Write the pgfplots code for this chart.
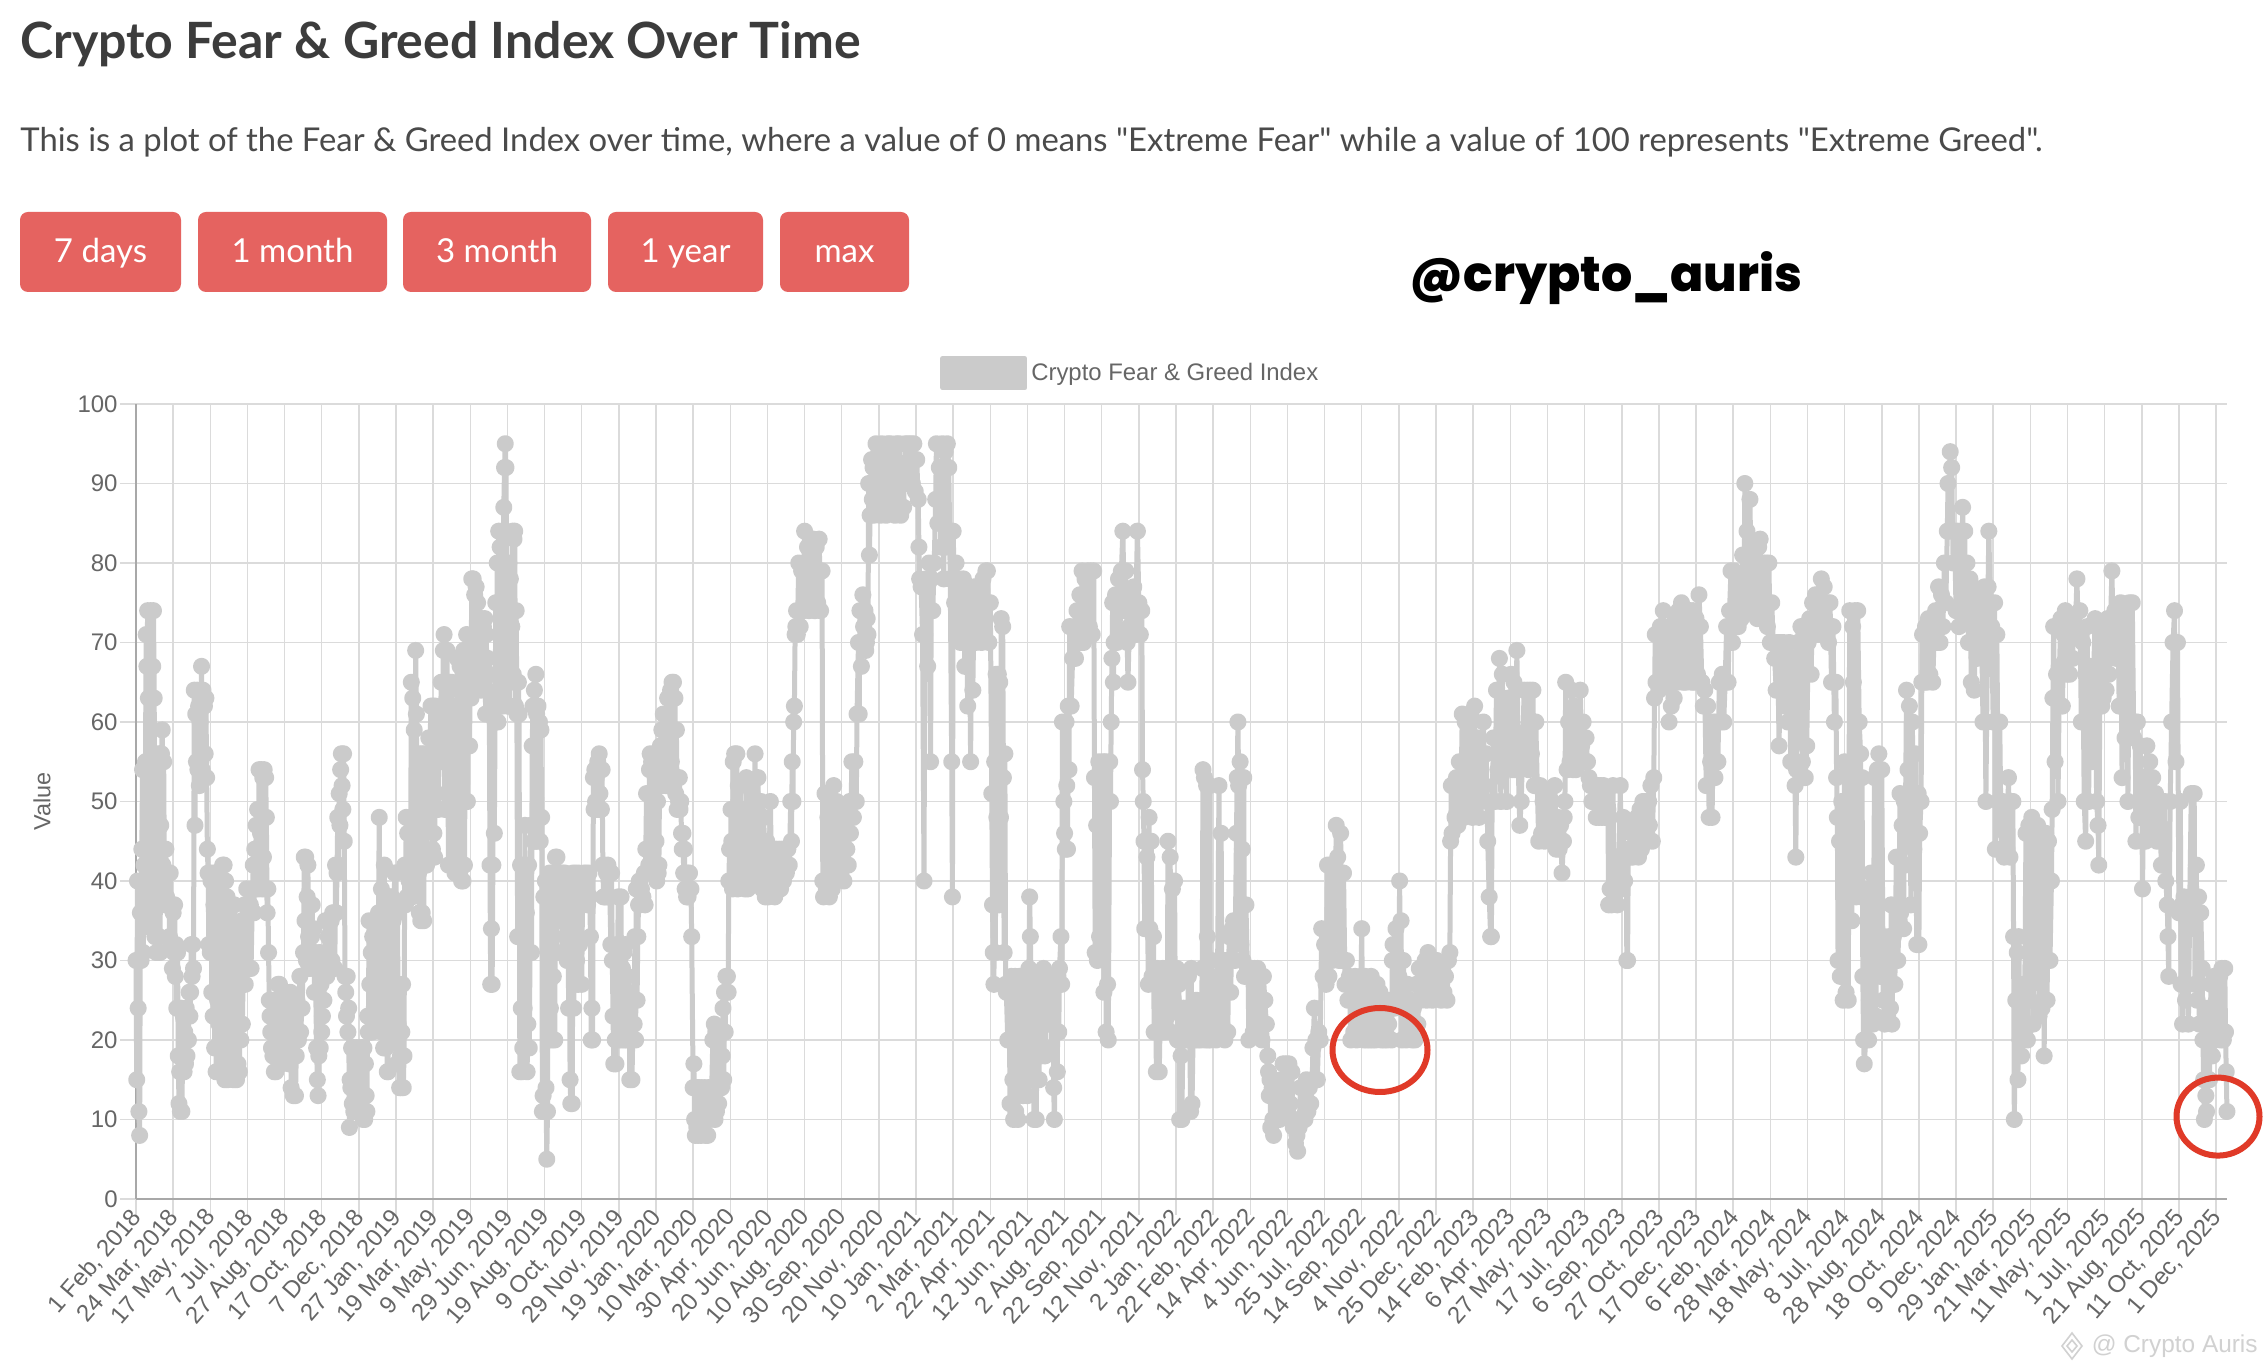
\documentclass[border=0pt]{standalone}
\usepackage{fontspec}
\usepackage{pgfplots}
\pgfplotsset{compat=1.18}
\setmainfont{Liberation Sans}
\newfontfamily\headfont{Lato}
\newfontfamily\handlefont{Poppins ExtraBold}
\definecolor{fg}{HTML}{CBCBCB}
\definecolor{gridc}{HTML}{DBDBDB}
\definecolor{axc}{HTML}{A8A8A8}
\definecolor{labc}{HTML}{666666}
\definecolor{btn}{HTML}{E56360}
\definecolor{titlec}{HTML}{3C3C3C}
\definecolor{subc}{HTML}{4A4A4A}
\definecolor{ring}{HTML}{E03A28}
\begin{document}
\begin{tikzpicture}
\useasboundingbox (0,0) rectangle (1133pt,685pt);
\fill[white] (0,0) rectangle (1133pt,685pt);
\begin{axis}[
  at={(68pt,85.5pt)}, anchor=south west,
  scale only axis, width=1045.5pt, height=397.5pt,
  xmin=0, xmax=2871, ymin=0, ymax=100,
  axis lines*=left,
  axis line style={axc, line width=1pt, -},
  clip=false,
  xtick={0,51,102,153,204,255,306,357,408,459,510,561,612,663,714,765,816,867,918,969,1020,1071,1122,1173,1224,1275,1326,1377,1428,1479,1530,1581,1632,1683,1734,1785,1836,1887,1938,1989,2040,2091,2142,2193,2244,2295,2346,2397,2448,2499,2550,2601,2652,2703,2754,2805,2856},
  xticklabels={{1 Feb, 2018},{24 Mar, 2018},{17 May, 2018},{7 Jul, 2018},{27 Aug, 2018},{17 Oct, 2018},{7 Dec, 2018},{27 Jan, 2019},{19 Mar, 2019},{9 May, 2019},{29 Jun, 2019},{19 Aug, 2019},{9 Oct, 2019},{29 Nov, 2019},{19 Jan, 2020},{10 Mar, 2020},{30 Apr, 2020},{20 Jun, 2020},{10 Aug, 2020},{30 Sep, 2020},{20 Nov, 2020},{10 Jan, 2021},{2 Mar, 2021},{22 Apr, 2021},{12 Jun, 2021},{2 Aug, 2021},{22 Sep, 2021},{12 Nov, 2021},{2 Jan, 2022},{22 Feb, 2022},{14 Apr, 2022},{4 Jun, 2022},{25 Jul, 2022},{14 Sep, 2022},{4 Nov, 2022},{25 Dec, 2022},{14 Feb, 2023},{6 Apr, 2023},{27 May, 2023},{17 Jul, 2023},{6 Sep, 2023},{27 Oct, 2023},{17 Dec, 2023},{6 Feb, 2024},{28 Mar, 2024},{18 May, 2024},{8 Jul, 2024},{28 Aug, 2024},{18 Oct, 2024},{9 Dec, 2024},{29 Jan, 2025},{21 Mar, 2025},{11 May, 2025},{1 Jul, 2025},{21 Aug, 2025},{11 Oct, 2025},{1 Dec, 2025}},
  ytick={0,10,...,100},
  grid=major,
  grid style={gridc, line width=0.75pt},
  tick style={gridc, line width=0.75pt},
  major tick length=8pt,
  tick align=outside,
  xticklabel style={rotate=49, anchor=east, font=\fontsize{12}{12}\selectfont, text=labc, inner sep=0pt, outer sep=0pt, xshift=1pt},
  yticklabel style={font=\fontsize{12}{12}\selectfont, text=labc, /pgf/number format/assume math mode=true, inner sep=0pt, xshift=-1pt},
  xtick pos=bottom, ytick pos=left,
  ylabel={Value},
  ylabel style={font=\fontsize{11.7}{12}\selectfont, text=labc, at={(axis description cs:-0.0375,0.5)}, anchor=south},
  legend style={at={(0.476,1.0165)}, anchor=south, draw=none, fill=none, font=\fontsize{11.95}{12}\selectfont, text=labc, inner sep=0pt},
  legend cell align=left,
  legend image code/.code={\fill[fg] (0pt,-7.4pt) rectangle (41pt,7.4pt);},
]
\addplot[fg, line width=2.5pt, line join=round, mark=*, mark size=3pt, mark options={fg, fill=fg, solid}] coordinates {
(0,30)(1,15)(2,40)(3,24)(4,11)(5,8)(6,36)(7,30)(8,44)(9,54)(10,31)(11,42)(12,35)(13,55)(14,71)(15,67)(16,74)(17,63)(18,54)(19,36)(20,74)(21,45)(22,34)(23,67)(24,74)(25,63)(26,33)(27,55)(28,31)(29,45)(30,56)(31,38)(32,33)(33,31)(34,47)(35,56)(36,59)(37,42)(38,55)(39,40)(40,37)(41,44)(42,38)(43,41)(44,37)(45,41)(46,33)(47,41)(48,32)(49,37)(50,29)(51,36)(52,31)(53,37)(54,28)(55,32)(56,24)(57,31)(58,18)(59,12)
(60,16)(61,11)(62,24)(63,11)(64,18)(65,23)(66,16)(67,21)(68,17)(69,24)(70,18)(71,23)(72,20)(73,26)(74,23)(75,26)(76,32)(77,28)(78,32)(79,29)
(80,64)(81,47)(82,61)(83,55)(84,64)(85,54)(86,62)(87,52)(88,60)(89,55)(90,67)(91,54)(92,64)(93,53)(94,62)(95,56)(96,63)(97,53)(98,44)
(99,41)(100,32)(101,41)(102,31)(103,40)(104,26)(105,41)(106,23)(107,37)(108,19)(109,41)(110,16)(111,39)(112,25)(113,41)(114,22)(115,36)(116,16)(117,40)(118,24)(119,42)(120,20)(121,42)(122,15)(123,40)(124,18)(125,38)(126,15)(127,35)(128,20)(129,33)(130,16)(131,37)(132,19)(133,37)(134,15)(135,37)(136,22)(137,34)(138,15)(139,33)(140,17)(141,28)(142,16)(143,30)(144,20)(145,35)(146,22)(147,27)(148,30)(149,37)(150,27)
(152,39)(154,36)(155,29)(157,37)(158,29)(160,39)(161,42)(162,36)(163,44)(164,39)(165,47)(166,42)(167,49)(168,39)(169,54)(171,46)(172,54)(173,39)(174,53)(175,43)(176,54)(177,39)(178,53)(179,48)(180,36)(181,39)(182,31)(183,25)(184,23)(185,21)(186,19)(187,25)(188,18)(189,23)(190,16)(191,24)(192,16)(193,25)(194,19)(195,27)(196,20)(197,27)(198,18)(199,25)(200,17)(201,23)(202,19)
(204,26)(206,18)(208,25)(210,17)(212,26)(213,14)(215,24)(216,13)(218,22)(219,13)(220,18)(221,25)(223,20)(225,28)(226,21)(228,24)(230,31)(231,43)(232,35)(233,43)(234,30)(235,38)(236,42)(237,33)(238,29)(240,37)(241,33)(242,37)(243,29)(244,34)(245,26)(246,31)(248,19)(249,15)(250,13)(251,18)(252,31)(253,19)(254,27)(255,21)(256,23)(257,29)(258,25)(260,35)(262,28)(264,33)
(266,35)(267,29)(268,35)(269,30)(270,36)(271,29)(272,36)(273,29)(274,42)(275,36)(276,41)(277,48)(278,42)(279,51)(280,47)(281,54)(282,56)(283,52)(284,49)(285,56)(286,45)(287,28)(288,26)(289,23)(290,28)(291,21)(292,24)(293,9)(294,15)(295,14)
(296,19)(297,12)(298,19)(299,11)(300,19)(302,13)(303,19)(304,11)(305,19)(306,12)(307,19)(308,14)(309,19)(310,11)(311,19)(312,10)(313,19)(314,10)(315,17)(316,13)(317,11)(318,23)(319,21)(320,35)(321,27)(322,21)(323,31)(324,21)(325,33)(326,23)(327,35)(328,22)(329,30)(330,24)(331,33)(332,22)(333,36)(334,48)(335,30)(336,22)(337,39)(338,21)(339,34)(340,19)(341,42)(342,25)(343,19)(344,33)(345,16)(346,16)(347,36)(348,24)(349,38)(350,21)(351,38)(352,24)(353,35)(354,22)(355,41)(356,20)(357,41)(358,17)(359,36)(360,22)(361,27)(362,14)(363,18)(364,14)(365,21)(366,27)(367,14)(368,18)(369,42)(370,37)(371,48)(372,38)(373,46)(374,41)(375,40)
(376,48)(377,39)(378,65)(379,38)(380,63)(381,47)(382,59)(383,40)(384,69)(385,61)(386,39)(387,55)(388,41)(389,36)(390,56)(391,35)(392,55)(393,36)(394,56)(395,35)(396,55)(397,42)(398,56)(399,42)(400,55)(401,50)(402,58)(403,55)(405,62)(406,50)(407,44)(408,62)(409,46)(410,43)(411,62)(412,49)(413,57)(414,56)
(415,49)(416,55)(417,60)(418,57)(419,65)(420,55)(421,62)(422,69)(423,71)(424,49)(425,65)(426,51)(427,69)(428,60)(429,42)(430,65)(431,50)(432,42)(433,65)(434,50)(435,62)(436,51)(437,60)(438,41)(439,60)(440,50)(441,68)(442,55)(443,64)(444,41)(445,67)(446,50)(447,40)(448,67)(449,40)(450,69)(451,42)(452,57)(453,50)(454,71)(455,50)(456,63)(457,69)(458,57)(459,68)(460,63)(461,78)(462,65)(463,78)(464,66)(465,76)(466,65)(467,77)(468,64)(469,75)(470,65)(471,73)(472,66)(473,70)(474,64)(475,73)(476,66)(477,72)(478,65)(479,73)(480,61)(481,71)(482,64)(483,68)(484,61)(485,66)(486,42)(487,27)(488,34)(489,27)(490,42)(491,63)(492,46)(493,60)(494,75)(495,63)(496,80)(497,60)(498,84)(499,63)(500,82)(501,65)(502,84)(503,62)(504,75)(505,87)(506,92)(507,95)(508,92)(509,78)(510,62)(511,74)(512,80)(513,62)(514,78)(515,65)(516,72)(517,84)(518,66)(519,83)(520,84)(521,62)(522,74)(523,61)(524,33)(525,65)(526,61)
(527,16)(528,42)(529,24)(530,16)(531,19)(532,42)(533,24)(534,47)(535,19)(536,36)(537,16)(538,22)(539,42)(540,19)(541,31)(542,47)(543,31)(544,57)(545,62)(546,45)(547,64)(548,45)(549,66)(550,61)(551,45)(552,62)(553,48)(554,60)(555,45)(556,59)(557,48)(558,11)(559,13)(560,38)(561,11)(562,40)(563,14)(564,5)(565,11)(566,39)(567,20)(568,41)(569,24)(570,39)(571,20)(572,41)(573,28)(574,38)(575,20)(576,43)(577,31)(578,43)(580,38)(581,41)(582,35)(583,41)(584,38)(585,31)(586,41)(587,38)(588,31)(589,41)(590,33)(591,39)(592,30)(593,40)(594,24)(595,38)(596,15)(597,12)(598,33)(599,12)(600,41)(601,24)(602,38)(603,27)(604,41)(605,30)(606,38)(607,27)(608,41)(609,32)(610,38)(612,27)(613,37)(615,41)(616,38)(618,41)(620,37)(622,41)(623,38)(624,33)(625,20)(626,24)(627,20)(628,53)(629,49)(630,54)(631,50)(632,53)(633,49)(634,55)(635,49)(636,56)(637,51)(638,54)(639,49)(640,54)(641,42)(642,38)(643,42)(644,38)(646,41)(647,38)(648,42)(649,38)(650,41)
(652,32)(653,41)(654,30)(655,23)(656,17)(657,30)(658,20)(659,17)(660,32)(661,23)(662,38)(663,20)(664,31)(665,21)(666,38)(667,20)(668,29)(669,21)(670,31)(671,20)(672,32)(673,25)(674,20)(675,28)(676,22)(677,26)(678,15)(679,25)(680,20)(681,15)(683,25)(684,22)(685,33)(686,20)(687,39)(688,25)(689,33)(690,37)(691,40)(692,37)(694,39)(696,38)(698,41)(699,37)(700,44)
(701,51)(702,41)(703,44)(704,42)(705,54)(706,56)(707,42)(708,55)(709,50)(710,42)(711,56)(712,41)(713,53)(714,45)(715,40)(716,50)(717,41)(718,42)(719,55)(720,57)(721,53)(722,59)(723,52)(724,61)(725,53)(726,57)(727,52)(728,59)(729,52)(730,63)(731,55)(732,59)(733,52)(734,64)(735,55)(736,65)(737,52)(738,65)(739,53)(740,63)(741,51)(742,59)(743,49)(745,50)(746,53)(747,49)(748,50)(749,46)(750,44)(751,46)(752,41)(753,44)(754,39)(755,41)(756,38)(757,41)(758,38)(760,41)(762,39)(763,33)(765,14)(766,17)(767,10)(768,8)(769,14)(770,9)(771,14)(772,8)(773,14)(774,9)(775,13)(776,8)(777,14)(779,10)(781,14)(782,8)(783,13)(785,8)(786,14)(788,10)(789,14)(790,12)(792,20)(794,22)(795,10)(796,21)(797,11)(798,14)(799,20)(800,12)(801,21)(802,15)(804,14)(805,18)(806,24)(807,15)(808,26)(809,21)(810,28)(811,26)(812,28)(813,26)(814,40)(815,44)(816,40)(817,49)(818,45)(819,39)(820,55)(821,45)(822,56)(823,40)(824,49)(825,56)(826,39)(827,52)(828,41)
(830,52)(832,40)(834,49)(836,39)(838,53)(840,39)(842,52)(844,40)(846,51)(848,41)(850,56)(852,41)(854,53)(856,41)(858,50)(860,39)(862,48)(864,38)(866,45)(868,38)(869,41)(871,50)(873,39)(875,42)(877,38)(879,44)(881,40)(883,44)(885,39)(887,44)(889,40)(891,44)(893,41)(895,44)(897,42)(899,50)(900,45)(901,55)(902,50)(903,60)(904,62)(905,71)(906,72)(907,74)(908,71)(910,80)(912,72)(914,79)(916,74)(918,84)(920,76)(922,82)(924,74)(926,80)(928,75)(930,83)(932,74)(934,82)(936,75)(938,83)(940,74)(942,79)(943,40)
(944,38)(946,51)(948,39)(950,48)(952,38)(954,49)(956,39)(958,52)(960,40)(962,50)(964,41)(966,49)(968,41)(970,47)(972,40)(974,48)(976,44)(978,42)(980,50)(981,46)(983,55)(985,48)(987,55)(989,50)(990,61)(992,70)(993,61)(994,74)(996,67)(998,76)(999,72)(1000,70)(1001,74)(1002,69)(1003,70)(1004,73)(1005,71)(1006,90)(1007,81)(1008,86)(1010,93)(1011,88)(1012,92)(1013,86)(1014,93)(1015,88)(1016,95)(1018,87)(1020,94)(1022,86)(1024,95)(1026,88)(1028,94)(1030,86)(1032,95)(1034,87)(1036,95)(1038,88)(1040,93)(1042,86)(1044,95)(1046,88)(1048,95)(1050,86)(1052,92)(1054,87)(1056,95)(1058,90)(1060,95)(1062,90)(1064,95)(1066,90)(1068,95)(1070,89)(1072,93)(1074,88)(1075,82)(1076,78)
(1078,77)(1080,71)(1082,40)(1083,71)(1085,78)(1087,67)(1089,80)(1091,55)(1092,78)(1094,74)(1096,80)(1098,88)(1099,95)(1101,85)(1103,92)(1105,82)(1107,95)(1109,78)(1111,94)(1112,82)(1114,95)(1116,92)(1118,78)(1120,55)(1121,38)(1122,84)(1124,75)(1126,80)(1128,71)(1130,78)(1132,70)(1134,75)(1136,78)(1138,67)(1140,74)(1142,62)(1144,76)(1146,55)(1147,73)(1149,64)(1151,77)(1153,70)(1155,76)(1157,72)(1159,77)(1161,70)(1163,78)(1165,72)(1167,79)(1169,79)(1171,70)(1173,75)(1175,51)(1176,37)(1177,31)(1178,27)(1179,55)(1180,31)(1181,66)(1182,48)(1184,66)(1185,37)(1186,65)(1187,48)(1188,73)(1189,53)(1190,72)(1191,53)(1192,31)(1193,56)(1194,27)
(1195,26)(1197,20)(1199,27)(1200,12)(1202,28)(1204,15)(1205,10)(1207,28)(1208,11)(1210,27)(1211,10)(1213,28)(1214,14)(1216,27)(1218,13)(1220,28)(1221,16)(1223,27)(1224,13)(1226,29)(1227,38)(1228,33)(1229,27)(1230,15)(1232,28)(1233,10)(1235,28)(1236,10)(1238,27)(1240,15)(1241,27)(1243,18)(1245,28)(1246,29)(1248,18)(1250,27)(1252,22)(1254,28)(1256,22)(1257,19)(1259,28)(1260,14)(1261,10)(1263,27)(1265,16)(1266,28)(1267,21)(1268,29)(1270,33)(1271,27)(1272,60)
(1274,50)(1275,46)(1276,44)(1277,60)(1278,52)(1279,44)(1280,62)(1281,54)(1282,72)(1284,62)(1286,68)(1288,72)(1290,68)(1292,74)(1294,70)(1296,76)(1298,70)(1299,79)(1301,70)(1303,78)(1305,71)(1307,79)(1309,72)(1311,79)(1313,71)(1315,79)(1316,53)(1317,31)(1319,47)(1320,30)(1322,55)(1323,33)(1325,46)(1326,31)(1328,55)(1329,26)(1331,55)(1332,21)(1334,27)(1335,20)(1337,55)(1338,50)(1339,60)(1340,68)(1341,75)(1342,65)(1343,70)(1345,76)(1347,70)(1349,78)(1351,71)(1353,79)(1355,84)(1357,74)(1359,79)(1361,70)(1362,65)(1364,72)(1366,76)(1368,71)(1370,77)(1372,71)(1375,84)(1377,75)(1379,71)(1381,74)(1382,54)(1383,50)(1384,45)(1385,34)(1386,45)(1388,43)(1390,27)(1391,48)(1392,34)(1394,45)(1395,28)(1397,33)(1398,21)(1400,27)(1401,16)(1402,29)(1404,21)(1405,16)(1407,27)(1408,21)(1410,29)(1412,21)(1414,29)(1416,23)(1417,45)(1418,24)(1420,43)(1421,21)(1423,39)(1424,25)(1426,40)(1427,24)(1429,29)(1430,20)(1432,27)(1433,10)(1435,18)(1436,10)(1438,24)(1440,20)(1442,24)(1444,20)(1445,28)(1447,20)(1448,11)(1449,29)(1450,12)(1452,24)(1454,20)(1456,25)(1458,20)(1460,24)(1462,20)(1464,29)(1465,54)(1466,29)(1467,53)(1468,20)(1470,52)(1471,33)(1472,20)(1474,52)(1475,20)(1477,30)(1479,21)(1481,27)(1483,20)(1485,28)(1487,52)(1488,21)(1490,46)(1491,22)(1493,30)(1495,20)(1497,30)(1499,21)(1501,33)(1503,26)(1505,34)(1507,35)(1509,30)(1511,46)(1512,53)(1513,60)(1514,52)(1515,34)(1516,55)(1517,32)(1519,44)(1520,30)(1521,53)(1522,28)(1524,37)(1526,29)(1527,28)(1528,20)(1530,28)(1532,29)(1534,21)(1536,29)(1538,23)(1540,29)(1542,22)(1544,28)(1546,20)(1548,28)(1550,25)(1552,22)(1554,18)(1555,16)
(1556,13)(1557,15)(1558,9)(1560,14)(1561,10)(1562,8)(1564,14)(1566,11)(1568,14)(1570,10)(1572,15)(1574,11)(1575,17)(1577,12)(1579,17)(1581,11)(1583,17)(1585,12)(1587,16)(1589,9)(1591,10)(1592,7)(1594,8)(1595,6)(1597,9)(1599,14)(1601,10)(1603,14)(1605,10)(1607,15)(1609,11)(1611,14)(1613,12)(1615,15)(1616,19)(1618,24)(1620,20)(1622,15)(1624,21)(1626,20)(1628,34)(1630,28)(1632,32)(1634,27)(1636,42)(1638,28)(1640,42)(1642,30)(1644,42)(1646,32)(1648,47)(1650,43)(1652,30)(1654,46)(1656,30)(1658,41)(1660,27)(1662,30)(1664,25)(1666,28)(1668,20)(1670,27)(1672,21)(1674,28)(1676,20)(1678,27)(1680,21)(1682,28)(1683,34)(1684,24)(1686,20)(1688,28)(1690,20)(1692,26)(1694,20)(1696,28)(1698,20)(1700,25)(1702,20)(1704,27)(1705,26)(1706,21)(1708,26)(1710,20)(1712,25)(1714,20)(1716,24)(1718,20)(1720,22)(1722,25)(1724,20)(1725,30)(1726,32)(1728,24)(1730,34)(1732,25)(1734,28)(1735,40)(1736,30)(1737,35)(1738,20)(1740,30)(1742,25)(1744,20)(1746,27)(1748,21)(1750,25)(1752,20)(1754,24)(1756,20)(1758,27)(1760,22)(1762,29)(1764,25)(1766,29)(1768,26)(1770,30)(1772,25)(1774,31)(1776,26)(1778,30)(1780,25)(1782,29)(1784,26)(1786,30)(1788,26)(1790,29)(1792,25)(1794,29)(1796,26)(1798,28)(1800,25)(1802,30)(1804,31)(1805,45)(1806,52)(1807,46)(1809,52)(1811,48)(1813,53)(1815,47)(1817,55)(1819,49)(1821,61)(1823,48)(1825,60)(1827,51)(1829,56)(1831,50)(1833,61)(1835,48)(1838,62)(1840,50)(1842,58)(1844,48)(1846,55)(1848,50)(1850,60)(1852,52)(1854,56)(1856,45)(1858,38)(1860,33)(1861,33)
(1862,50)(1864,58)(1866,50)(1868,64)(1870,54)(1872,68)(1874,50)(1876,66)(1878,54)(1880,62)(1882,50)(1884,63)(1886,56)(1888,66)(1890,54)(1892,65)(1894,54)(1896,69)(1898,54)(1900,47)(1902,50)(1904,57)(1906,64)(1908,55)(1910,64)(1912,54)(1914,64)(1916,56)(1918,64)(1920,52)(1922,60)(1924,52)(1926,45)(1928,52)(1930,46)(1932,50)(1934,45)(1936,50)(1938,46)(1940,51)(1942,45)(1944,50)(1946,45)(1948,52)(1950,44)(1952,48)(1954,44)(1956,47)(1958,41)(1960,45)(1961,48)(1962,50)(1963,65)(1965,54)(1967,60)(1969,55)(1971,64)(1973,54)(1975,62)(1977,54)(1979,60)(1981,55)(1983,64)(1985,57)(1987,60)(1989,55)(1991,58)(1993,55)(1995,53)(1997,52)(1999,50)(2001,50)(2003,52)(2005,48)(2007,52)(2009,48)(2011,52)(2013,48)(2015,52)(2017,48)(2019,51)(2021,49)
(2022,37)(2024,39)(2026,37)(2028,52)(2030,38)(2032,42)(2034,37)(2036,41)(2038,52)(2040,39)(2042,48)(2044,40)(2046,43)(2047,30)(2048,30)(2049,44)(2051,43)(2053,46)(2055,43)(2057,47)(2059,44)(2061,48)(2063,43)(2065,49)(2067,44)(2069,50)(2071,45)(2073,50)(2075,45)(2077,50)(2078,47)(2080,52)(2082,45)(2084,53)(2085,63)(2086,71)(2087,65)(2089,71)(2091,64)(2093,72)(2095,65)(2097,74)(2099,66)(2101,71)(2103,65)(2105,60)(2106,72)(2108,62)(2110,70)(2112,63)(2114,73)(2116,65)(2118,74)(2120,66)(2122,75)(2124,65)(2126,74)(2128,65)(2130,73)(2132,66)(2134,74)(2136,65)(2138,74)(2140,65)(2142,73)(2144,66)(2146,76)(2148,72)(2150,65)(2152,62)(2154,64)(2156,52)(2158,62)(2160,48)(2162,55)(2164,48)(2166,60)(2168,53)(2170,60)(2172,55)(2174,65)(2176,60)(2178,66)(2180,60)(2182,65)(2184,72)(2186,65)(2188,74)(2190,79)(2192,70)(2194,79)(2196,72)(2198,77)(2200,72)(2202,76)(2204,73)(2206,81)(2208,75)(2209,90)(2210,78)(2212,84)(2214,74)(2216,88)(2218,76)(2220,82)(2222,74)(2224,80)(2226,73)(2228,82)(2230,83)(2232,75)(2234,80)(2236,73)(2238,80)(2240,72)(2242,80)(2244,70)(2246,75)(2248,70)(2250,68)(2252,64)(2254,70)(2256,57)(2258,70)(2260,64)(2262,70)(2264,62)(2266,68)(2268,60)(2270,70)(2272,55)(2274,64)(2276,68)(2278,52)(2279,43)(2280,54)(2282,70)(2284,60)(2286,72)(2288,55)(2290,71)(2292,53)(2294,57)(2296,70)(2298,73)(2300,66)(2302,75)(2304,71)(2306,76)(2308,71)(2310,75)(2312,71)(2314,78)(2316,72)(2318,77)(2320,71)(2322,75)(2324,70)(2326,75)(2328,65)(2330,72)(2332,60)(2334,65)(2335,53)(2336,48)(2337,30)(2339,45)(2340,28)(2342,50)(2344,25)(2346,55)(2348,26)(2350,54)(2351,25)(2353,74)(2354,50)(2356,35)(2357,72)(2358,65)(2360,74)(2362,38)(2364,74)(2366,60)(2368,56)(2369,38)(2370,53)(2371,28)(2372,20)(2373,17)(2375,20)(2377,39)(2379,20)(2380,25)(2382,41)(2384,25)(2385,22)(2387,53)(2389,23)(2391,54)(2393,56)(2395,28)(2397,54)(2399,25)(2400,33)(2401,22)(2403,30)(2405,23)(2407,33)(2409,24)(2410,37)(2411,22)(2413,33)(2415,27)(2417,43)(2419,30)(2421,35)(2422,51)(2423,36)(2425,47)(2427,34)(2428,50)(2429,42)(2431,64)(2433,54)(2435,62)(2437,37)(2439,60)(2441,44)(2443,56)(2445,32)(2447,51)(2448,32)(2449,46)(2451,50)(2452,65)(2453,71)(2455,65)(2457,72)(2459,65)(2461,73)(2463,66)(2465,72)(2467,65)(2469,71)(2471,74)(2473,70)(2475,77)(2477,70)(2479,76)(2481,72)(2483,80)(2485,75)(2487,84)(2488,90)(2490,84)(2491,94)(2493,92)(2495,80)(2497,84)(2499,74)(2501,84)(2503,72)(2505,84)(2507,75)(2508,87)(2510,77)(2511,84)(2512,73)(2514,80)(2516,70)(2518,78)(2520,65)(2522,77)(2524,64)(2526,75)(2528,68)(2530,76)(2532,70)(2534,72)(2536,60)(2538,77)(2540,50)(2541,60)(2543,77)(2544,84)(2546,75)(2548,72)(2550,60)(2552,75)(2553,44)(2555,71)(2557,50)(2559,60)(2561,44)(2563,50)(2565,43)(2567,46)(2569,44)(2571,53)(2573,43)(2575,50)(2577,50)(2578,33)(2579,10)(2581,25)(2583,31)(2584,15)(2585,33)(2587,20)(2589,18)(2591,27)(2593,21)(2595,46)(2597,20)(2599,47)(2601,25)(2603,48)(2605,22)(2607,46)(2609,28)(2611,47)(2613,23)(2615,45)(2617,24)(2619,46)(2620,18)(2622,46)(2624,25)(2626,45)(2628,30)(2630,40)(2631,49)(2632,63)(2633,72)(2635,55)(2637,66)(2639,50)(2641,67)(2643,73)(2645,62)(2647,71)(2649,74)(2651,66)(2653,73)(2655,66)(2657,73)(2659,68)(2661,73)(2663,72)(2665,78)(2667,71)(2669,74)(2671,60)(2673,70)(2675,50)(2677,45)(2679,72)(2681,50)(2683,67)(2685,55)(2687,63)(2690,73)(2692,50)(2694,47)(2695,42)(2697,72)(2699,62)(2701,63)(2703,72)(2705,64)(2707,73)(2709,66)(2711,72)(2713,79)(2715,70)(2717,74)(2719,68)(2721,74)(2723,62)(2725,75)(2727,53)(2729,72)(2731,58)(2733,74)(2735,50)(2737,75)(2739,60)(2741,75)(2743,58)(2745,60)(2746,45)(2748,60)(2750,48)(2752,57)(2754,52)(2755,39)(2757,53)(2759,45)(2761,57)(2763,46)(2765,55)(2767,47)(2769,53)(2771,46)(2773,51)(2775,45)(2777,50)(2779,47)(2781,42)(2783,50)(2785,50)(2787,40)(2789,37)(2790,33)(2791,28)(2793,50)(2795,60)(2797,70)(2799,74)(2801,55)(2803,70)(2805,36)(2807,50)(2808,27)(2809,37)(2810,22)(2812,38)(2814,25)(2816,35)(2818,22)(2820,38)(2822,51)(2824,37)(2826,51)(2827,27)(2829,42)(2830,25)(2832,38)(2833,22)(2835,36)(2837,29)(2838,20)(2839,15)(2840,10)(2842,13)(2843,11)(2845,24)(2847,15)(2849,27)(2851,18)(2853,28)(2855,20)(2857,27)(2859,21)(2861,28)(2862,20)(2864,29)(2866,20)(2868,29)(2869,21)(2870,16)(2871,11)
};
\addlegendentry{Crypto Fear \& Greed Index}
\end{axis}
\begin{scope}[x=0.5pt,y=-0.5pt,yshift=685pt]
  \node[anchor=west, inner sep=0pt, text=titlec, font=\headfont\bfseries\fontsize{25}{26}\selectfont] at (20,44) {Crypto Fear \& Greed Index Over Time};
  \node[anchor=west, inner sep=0pt, text=subc, font=\headfont\fontsize{16.4}{18}\selectfont] at (20,142) {This is a plot of the Fear \& Greed Index over time, where a value of 0 means "Extreme Fear" while a value of 100 represents "Extreme Greed".};
  \foreach \a/\b/\t in {20/181/7 days,198/387/1 month,403/591/3 month,608/763/1 year,780/909/max}{
    \fill[btn, rounded corners=4pt] (\a,212) rectangle (\b,292);
    \node[anchor=base, text=white, inner sep=0pt, font=\headfont\fontsize{16.5}{18}\selectfont] at ({(\a+\b)/2},263) {\t};
  }
  \node[anchor=west, inner sep=0pt, text=black, font=\handlefont\fontsize{24.5}{26}\selectfont] at (1409,278) {@crypto\_auris};
  \draw[ring, line width=3pt] (1380,1050) ellipse [x radius=47.5, y radius=42];
  \draw[ring, line width=3pt] (2218,1116.6) ellipse [x radius=41.5, y radius=39];
  \node[anchor=east, inner sep=0pt, text=black!18, font=\fontsize{12.2}{13}\selectfont] at (2258,1346) {@ Crypto Auris};
  \draw[black!18, line width=0.8pt] (2072,1333) -- (2082,1346) -- (2072,1359) -- (2062,1346) -- cycle;
  \draw[black!18, line width=0.8pt] (2072,1340) -- (2077,1346) -- (2072,1352) -- (2067,1346) -- cycle;
\end{scope}
\end{tikzpicture}
\end{document}
